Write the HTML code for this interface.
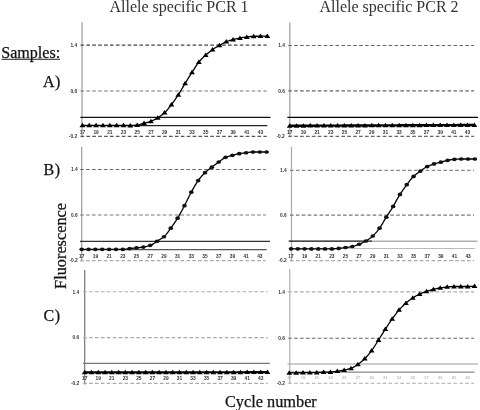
<!DOCTYPE html>
<html><head><meta charset="utf-8"><title>Allele specific PCR</title>
<style>
html,body{margin:0;padding:0;background:#fff;}
body{width:480px;height:410px;overflow:hidden;position:relative;}
svg{position:absolute;left:0;top:0;}
.t{font-family:"Liberation Serif", "Times New Roman", serif;font-size:16px;fill:#111;}
.tb{stroke:#111;stroke-width:0.25px;}
.tl{font-family:"Liberation Sans", Arial, sans-serif;font-size:4.8px;font-weight:bold;fill:#333;}
.tlf{fill:#bbb;font-size:4px;}
</style></head><body>
<svg width="480" height="410" viewBox="0 0 480 410">
<text class="t" x="109.5" y="11.7" style="fill:#333">Allele specific PCR 1</text>
<text class="t" x="319.5" y="11.7" style="fill:#333">Allele specific PCR 2</text>
<text class="t tb" x="1.2" y="57.6" style="font-size:16.1px">Samples:</text>
<line x1="1.5" y1="59.3" x2="60" y2="59.3" stroke="#222" stroke-width="1"/>
<text class="t tb" x="43" y="86.9" letter-spacing="0.4">A)</text>
<text class="t tb" x="43.6" y="175" letter-spacing="0.4">B)</text>
<text class="t tb" x="43.6" y="320.8" letter-spacing="0.4">C)</text>
<text class="t tb" transform="translate(66.4,288.9) rotate(-90)" x="0" y="0" style="font-size:16.3px">Fluorescence</text>
<text class="t tb" x="225" y="406.8" style="font-size:16.3px">Cycle number</text>
<line x1="82" y1="22.3" x2="82" y2="137.4" stroke="#9a9a9a" stroke-width="1.2"/>
<line x1="80.5" y1="45.2" x2="266.7" y2="45.2" stroke="#444" stroke-width="1.2" stroke-dasharray="3.6 2.3"/>
<line x1="80.5" y1="91" x2="266.7" y2="91" stroke="#777" stroke-width="1.2" stroke-dasharray="3.6 2.3"/>
<line x1="80.5" y1="136.4" x2="266.7" y2="136.4" stroke="#555" stroke-width="1.2" stroke-dasharray="3.6 2.3"/>
<text x="77.1" y="47" text-anchor="end" class="tl">1.4</text>
<text x="77.1" y="92.8" text-anchor="end" class="tl">0.6</text>
<text x="77.1" y="138.2" text-anchor="end" class="tl">-0.2</text>
<line x1="80.3" y1="117.4" x2="270.5" y2="117.4" stroke="#111" stroke-width="1.2"/>
<text x="82.4" y="133.6" text-anchor="middle" class="tl">17</text>
<text x="96.1" y="133.6" text-anchor="middle" class="tl">19</text>
<text x="109.8" y="133.6" text-anchor="middle" class="tl">21</text>
<text x="123.5" y="133.6" text-anchor="middle" class="tl">23</text>
<text x="137.2" y="133.6" text-anchor="middle" class="tl">25</text>
<text x="150.9" y="133.6" text-anchor="middle" class="tl">27</text>
<text x="164.6" y="133.6" text-anchor="middle" class="tl">29</text>
<text x="178.3" y="133.6" text-anchor="middle" class="tl">31</text>
<text x="192" y="133.6" text-anchor="middle" class="tl">33</text>
<text x="205.7" y="133.6" text-anchor="middle" class="tl">35</text>
<text x="219.4" y="133.6" text-anchor="middle" class="tl">37</text>
<text x="233.1" y="133.6" text-anchor="middle" class="tl">39</text>
<text x="246.8" y="133.6" text-anchor="middle" class="tl">41</text>
<text x="260.5" y="133.6" text-anchor="middle" class="tl">43</text>
<line x1="82.4" y1="125.6" x2="267.35" y2="125.6" stroke="#222" stroke-width="1.2"/>
<path d="M82.4,125.3 L83.33,125.3 L84.26,125.3 L85.19,125.3 L86.12,125.3 L87.05,125.3 L87.98,125.3 L88.91,125.3 L89.84,125.3 L90.76,125.3 L91.69,125.31 L92.62,125.31 L93.55,125.31 L94.48,125.31 L95.41,125.31 L96.34,125.31 L97.27,125.31 L98.2,125.31 L99.13,125.32 L100.06,125.32 L100.99,125.32 L101.92,125.32 L102.85,125.32 L103.78,125.33 L104.71,125.33 L105.63,125.33 L106.56,125.33 L107.49,125.34 L108.42,125.34 L109.35,125.34 L110.28,125.34 L111.21,125.35 L112.14,125.35 L113.07,125.35 L114,125.36 L114.93,125.36 L115.86,125.36 L116.79,125.37 L117.72,125.37 L118.65,125.38 L119.58,125.38 L120.51,125.38 L121.43,125.39 L122.36,125.39 L123.29,125.4 L124.22,125.4 L125.15,125.41 L126.08,125.42 L127.01,125.44 L127.94,125.46 L128.87,125.48 L129.8,125.49 L130.73,125.5 L131.66,125.5 L132.59,125.47 L133.52,125.41 L134.45,125.32 L135.38,125.22 L136.31,125.11 L137.23,125 L138.16,124.85 L139.09,124.65 L140.02,124.41 L140.95,124.14 L141.88,123.86 L142.81,123.57 L143.74,123.3 L144.67,123.05 L145.6,122.8 L146.53,122.56 L147.46,122.31 L148.39,122.05 L149.32,121.77 L150.25,121.47 L151.18,121.13 L152.1,120.76 L153.03,120.34 L153.96,119.89 L154.89,119.41 L155.82,118.9 L156.75,118.36 L157.68,117.81 L158.61,117.24 L159.54,116.64 L160.47,116 L161.4,115.33 L162.33,114.62 L163.26,113.87 L164.19,113.07 L165.12,112.21 L166.05,111.26 L166.98,110.22 L167.9,109.11 L168.83,107.95 L169.76,106.76 L170.69,105.55 L171.62,104.34 L172.55,103.11 L173.48,101.85 L174.41,100.55 L175.34,99.23 L176.27,97.87 L177.2,96.49 L178.13,95.08 L179.06,93.64 L179.99,92.15 L180.92,90.6 L181.85,89.02 L182.77,87.43 L183.7,85.84 L184.63,84.27 L185.56,82.74 L186.49,81.22 L187.42,79.7 L188.35,78.19 L189.28,76.69 L190.21,75.2 L191.14,73.72 L192.07,72.26 L193,70.8 L193.93,69.3 L194.86,67.8 L195.79,66.33 L196.72,64.91 L197.65,63.57 L198.57,62.35 L199.5,61.25 L200.43,60.2 L201.36,59.21 L202.29,58.27 L203.22,57.37 L204.15,56.5 L205.08,55.65 L206.01,54.81 L206.94,53.99 L207.87,53.18 L208.8,52.39 L209.73,51.63 L210.66,50.9 L211.59,50.2 L212.52,49.53 L213.44,48.9 L214.37,48.32 L215.3,47.76 L216.23,47.22 L217.16,46.7 L218.09,46.19 L219.02,45.68 L219.95,45.16 L220.88,44.61 L221.81,44.06 L222.74,43.51 L223.67,42.97 L224.6,42.47 L225.53,42.02 L226.46,41.64 L227.39,41.3 L228.32,41 L229.24,40.72 L230.17,40.45 L231.1,40.2 L232.03,39.96 L232.96,39.71 L233.89,39.46 L234.82,39.21 L235.75,38.97 L236.68,38.73 L237.61,38.51 L238.54,38.3 L239.47,38.1 L240.4,37.93 L241.33,37.77 L242.26,37.61 L243.19,37.47 L244.12,37.34 L245.04,37.21 L245.97,37.09 L246.9,36.98 L247.83,36.86 L248.76,36.74 L249.69,36.63 L250.62,36.52 L251.55,36.43 L252.48,36.36 L253.41,36.31 L254.34,36.28 L255.27,36.27 L256.2,36.25 L257.13,36.24 L258.06,36.23 L258.99,36.22 L259.91,36.21 L260.84,36.19 L261.77,36.17 L262.7,36.15 L263.63,36.12 L264.56,36.09 L265.49,36.07 L266.42,36.04 L267.35,36.01" fill="none" stroke="#000" stroke-width="1.3"/>
<path d="M82.4,122.7 L85.3,127.2 L79.5,127.2 Z" fill="#000"/>
<path d="M89.25,122.7 L92.15,127.2 L86.35,127.2 Z" fill="#000"/>
<path d="M96.1,122.71 L99,127.21 L93.2,127.21 Z" fill="#000"/>
<path d="M102.95,122.72 L105.85,127.22 L100.05,127.22 Z" fill="#000"/>
<path d="M109.8,122.74 L112.7,127.24 L106.9,127.24 Z" fill="#000"/>
<path d="M116.65,122.77 L119.55,127.27 L113.75,127.27 Z" fill="#000"/>
<path d="M123.5,122.8 L126.4,127.3 L120.6,127.3 Z" fill="#000"/>
<path d="M130.35,122.9 L133.25,127.4 L127.45,127.4 Z" fill="#000"/>
<path d="M137.2,122.4 L140.1,126.9 L134.3,126.9 Z" fill="#000"/>
<path d="M144.05,120.61 L146.95,125.11 L141.15,125.11 Z" fill="#000"/>
<path d="M150.9,118.64 L153.8,123.14 L148,123.14 Z" fill="#000"/>
<path d="M157.75,115.17 L160.65,119.67 L154.85,119.67 Z" fill="#000"/>
<path d="M164.6,110.1 L167.5,114.6 L161.7,114.6 Z" fill="#000"/>
<path d="M171.45,101.96 L174.35,106.46 L168.55,106.46 Z" fill="#000"/>
<path d="M178.3,92.22 L181.2,96.72 L175.4,96.72 Z" fill="#000"/>
<path d="M185.15,80.82 L188.05,85.32 L182.25,85.32 Z" fill="#000"/>
<path d="M192,69.77 L194.9,74.27 L189.1,74.27 Z" fill="#000"/>
<path d="M198.85,59.42 L201.75,63.92 L195.95,63.92 Z" fill="#000"/>
<path d="M205.7,52.49 L208.6,56.99 L202.8,56.99 Z" fill="#000"/>
<path d="M212.55,46.91 L215.45,51.41 L209.65,51.41 Z" fill="#000"/>
<path d="M219.4,42.87 L222.3,47.37 L216.5,47.37 Z" fill="#000"/>
<path d="M226.25,39.12 L229.15,43.62 L223.35,43.62 Z" fill="#000"/>
<path d="M233.1,37.07 L236,41.57 L230.2,41.57 Z" fill="#000"/>
<path d="M239.95,35.41 L242.85,39.91 L237.05,39.91 Z" fill="#000"/>
<path d="M246.8,34.39 L249.7,38.89 L243.9,38.89 Z" fill="#000"/>
<path d="M253.65,33.7 L256.55,38.2 L250.75,38.2 Z" fill="#000"/>
<path d="M260.5,33.6 L263.4,38.1 L257.6,38.1 Z" fill="#000"/>
<path d="M267.35,33.41 L270.25,37.91 L264.45,37.91 Z" fill="#000"/>
<line x1="289.8" y1="22.5" x2="289.8" y2="137.3" stroke="#9a9a9a" stroke-width="1.2"/>
<line x1="288.3" y1="45.5" x2="474" y2="45.5" stroke="#666" stroke-width="1.2" stroke-dasharray="3.6 2.3"/>
<line x1="288.3" y1="90.8" x2="474" y2="90.8" stroke="#666" stroke-width="1.2" stroke-dasharray="3.6 2.3"/>
<line x1="288.3" y1="136.3" x2="474" y2="136.3" stroke="#666" stroke-width="1.2" stroke-dasharray="3.6 2.3"/>
<text x="284.8" y="47.3" text-anchor="end" class="tl">1.4</text>
<text x="284.8" y="92.6" text-anchor="end" class="tl">0.6</text>
<text x="284.8" y="138.1" text-anchor="end" class="tl">-0.2</text>
<line x1="287.3" y1="117.4" x2="478" y2="117.4" stroke="#000" stroke-width="1.1"/>
<text x="289.7" y="133.7" text-anchor="middle" class="tl">17</text>
<text x="303.38" y="133.7" text-anchor="middle" class="tl">19</text>
<text x="317.06" y="133.7" text-anchor="middle" class="tl">21</text>
<text x="330.74" y="133.7" text-anchor="middle" class="tl">23</text>
<text x="344.42" y="133.7" text-anchor="middle" class="tl">25</text>
<text x="358.1" y="133.7" text-anchor="middle" class="tl">27</text>
<text x="371.78" y="133.7" text-anchor="middle" class="tl">29</text>
<text x="385.46" y="133.7" text-anchor="middle" class="tl">31</text>
<text x="399.14" y="133.7" text-anchor="middle" class="tl">33</text>
<text x="412.82" y="133.7" text-anchor="middle" class="tl">35</text>
<text x="426.5" y="133.7" text-anchor="middle" class="tl">37</text>
<text x="440.18" y="133.7" text-anchor="middle" class="tl">39</text>
<text x="453.86" y="133.7" text-anchor="middle" class="tl">41</text>
<text x="467.54" y="133.7" text-anchor="middle" class="tl">43</text>
<path d="M289.7,125.8 L290.63,125.8 L291.56,125.79 L292.48,125.79 L293.41,125.78 L294.34,125.78 L295.27,125.78 L296.2,125.77 L297.12,125.77 L298.05,125.76 L298.98,125.76 L299.91,125.76 L300.84,125.75 L301.76,125.75 L302.69,125.74 L303.62,125.74 L304.55,125.74 L305.48,125.73 L306.4,125.73 L307.33,125.72 L308.26,125.72 L309.19,125.72 L310.12,125.71 L311.04,125.71 L311.97,125.7 L312.9,125.7 L313.83,125.7 L314.76,125.69 L315.69,125.69 L316.61,125.68 L317.54,125.68 L318.47,125.68 L319.4,125.67 L320.33,125.67 L321.25,125.66 L322.18,125.66 L323.11,125.66 L324.04,125.65 L324.97,125.65 L325.89,125.64 L326.82,125.64 L327.75,125.64 L328.68,125.63 L329.61,125.63 L330.53,125.62 L331.46,125.62 L332.39,125.62 L333.32,125.61 L334.25,125.61 L335.17,125.6 L336.1,125.6 L337.03,125.6 L337.96,125.59 L338.89,125.59 L339.81,125.58 L340.74,125.58 L341.67,125.58 L342.6,125.57 L343.53,125.57 L344.45,125.56 L345.38,125.56 L346.31,125.56 L347.24,125.55 L348.17,125.55 L349.09,125.54 L350.02,125.54 L350.95,125.54 L351.88,125.53 L352.81,125.53 L353.73,125.52 L354.66,125.52 L355.59,125.52 L356.52,125.51 L357.45,125.51 L358.37,125.5 L359.3,125.5 L360.23,125.5 L361.16,125.49 L362.09,125.49 L363.02,125.48 L363.94,125.48 L364.87,125.48 L365.8,125.47 L366.73,125.47 L367.66,125.46 L368.58,125.46 L369.51,125.46 L370.44,125.45 L371.37,125.45 L372.3,125.44 L373.22,125.44 L374.15,125.44 L375.08,125.43 L376.01,125.43 L376.94,125.42 L377.86,125.42 L378.79,125.42 L379.72,125.41 L380.65,125.41 L381.58,125.4 L382.5,125.4 L383.43,125.4 L384.36,125.39 L385.29,125.39 L386.22,125.38 L387.14,125.38 L388.07,125.38 L389,125.37 L389.93,125.37 L390.86,125.36 L391.78,125.36 L392.71,125.36 L393.64,125.35 L394.57,125.35 L395.5,125.34 L396.42,125.34 L397.35,125.34 L398.28,125.33 L399.21,125.33 L400.14,125.32 L401.06,125.32 L401.99,125.32 L402.92,125.31 L403.85,125.31 L404.78,125.3 L405.71,125.3 L406.63,125.3 L407.56,125.29 L408.49,125.29 L409.42,125.28 L410.35,125.28 L411.27,125.28 L412.2,125.27 L413.13,125.27 L414.06,125.26 L414.99,125.26 L415.91,125.26 L416.84,125.25 L417.77,125.25 L418.7,125.24 L419.63,125.24 L420.55,125.24 L421.48,125.23 L422.41,125.23 L423.34,125.22 L424.27,125.22 L425.19,125.22 L426.12,125.21 L427.05,125.21 L427.98,125.2 L428.91,125.2 L429.83,125.19 L430.76,125.19 L431.69,125.19 L432.62,125.18 L433.55,125.18 L434.47,125.17 L435.4,125.17 L436.33,125.17 L437.26,125.16 L438.19,125.16 L439.11,125.15 L440.04,125.15 L440.97,125.15 L441.9,125.14 L442.83,125.14 L443.75,125.13 L444.68,125.13 L445.61,125.13 L446.54,125.12 L447.47,125.12 L448.39,125.11 L449.32,125.11 L450.25,125.11 L451.18,125.1 L452.11,125.1 L453.04,125.09 L453.96,125.09 L454.89,125.09 L455.82,125.08 L456.75,125.08 L457.68,125.07 L458.6,125.07 L459.53,125.07 L460.46,125.06 L461.39,125.06 L462.32,125.05 L463.24,125.05 L464.17,125.05 L465.1,125.04 L466.03,125.04 L466.96,125.03 L467.88,125.03 L468.81,125.03 L469.74,125.02 L470.67,125.02 L471.6,125.01 L472.52,125.01 L473.45,125.01 L474.38,125" fill="none" stroke="#000" stroke-width="2.4"/>
<path d="M289.7,123.2 L292.6,127.7 L286.8,127.7 Z" fill="#000"/>
<path d="M296.54,123.17 L299.44,127.67 L293.64,127.67 Z" fill="#000"/>
<path d="M303.38,123.14 L306.28,127.64 L300.48,127.64 Z" fill="#000"/>
<path d="M310.22,123.11 L313.12,127.61 L307.32,127.61 Z" fill="#000"/>
<path d="M317.06,123.08 L319.96,127.58 L314.16,127.58 Z" fill="#000"/>
<path d="M323.9,123.05 L326.8,127.55 L321,127.55 Z" fill="#000"/>
<path d="M330.74,123.02 L333.64,127.52 L327.84,127.52 Z" fill="#000"/>
<path d="M337.58,122.99 L340.48,127.49 L334.68,127.49 Z" fill="#000"/>
<path d="M344.42,122.96 L347.32,127.46 L341.52,127.46 Z" fill="#000"/>
<path d="M351.26,122.93 L354.16,127.43 L348.36,127.43 Z" fill="#000"/>
<path d="M358.1,122.9 L361,127.4 L355.2,127.4 Z" fill="#000"/>
<path d="M364.94,122.88 L367.84,127.38 L362.04,127.38 Z" fill="#000"/>
<path d="M371.78,122.85 L374.68,127.35 L368.88,127.35 Z" fill="#000"/>
<path d="M378.62,122.82 L381.52,127.32 L375.72,127.32 Z" fill="#000"/>
<path d="M385.46,122.79 L388.36,127.29 L382.56,127.29 Z" fill="#000"/>
<path d="M392.3,122.76 L395.2,127.26 L389.4,127.26 Z" fill="#000"/>
<path d="M399.14,122.73 L402.04,127.23 L396.24,127.23 Z" fill="#000"/>
<path d="M405.98,122.7 L408.88,127.2 L403.08,127.2 Z" fill="#000"/>
<path d="M412.82,122.67 L415.72,127.17 L409.92,127.17 Z" fill="#000"/>
<path d="M419.66,122.64 L422.56,127.14 L416.76,127.14 Z" fill="#000"/>
<path d="M426.5,122.61 L429.4,127.11 L423.6,127.11 Z" fill="#000"/>
<path d="M433.34,122.58 L436.24,127.08 L430.44,127.08 Z" fill="#000"/>
<path d="M440.18,122.55 L443.08,127.05 L437.28,127.05 Z" fill="#000"/>
<path d="M447.02,122.52 L449.92,127.02 L444.12,127.02 Z" fill="#000"/>
<path d="M453.86,122.49 L456.76,126.99 L450.96,126.99 Z" fill="#000"/>
<path d="M460.7,122.46 L463.6,126.96 L457.8,126.96 Z" fill="#000"/>
<path d="M467.54,122.43 L470.44,126.93 L464.64,126.93 Z" fill="#000"/>
<path d="M474.38,122.4 L477.28,126.9 L471.48,126.9 Z" fill="#000"/>
<line x1="81.7" y1="146.7" x2="81.7" y2="261.6" stroke="#9a9a9a" stroke-width="1.2"/>
<line x1="80.2" y1="169.5" x2="265.8" y2="169.5" stroke="#666" stroke-width="1.2" stroke-dasharray="3.6 2.3"/>
<line x1="80.2" y1="215" x2="265.8" y2="215" stroke="#777" stroke-width="1.2" stroke-dasharray="3.6 2.3"/>
<line x1="80.2" y1="260.6" x2="265.8" y2="260.6" stroke="#aaa" stroke-width="1.2" stroke-dasharray="3.6 2.3"/>
<text x="77.7" y="171.3" text-anchor="end" class="tl">1.4</text>
<text x="77.7" y="216.8" text-anchor="end" class="tl">0.6</text>
<text x="77.7" y="262.4" text-anchor="end" class="tl">-0.2</text>
<line x1="80" y1="241.3" x2="270" y2="241.3" stroke="#333" stroke-width="1.2"/>
<text x="81.7" y="258.1" text-anchor="middle" class="tl">17</text>
<text x="95.4" y="258.1" text-anchor="middle" class="tl">19</text>
<text x="109.1" y="258.1" text-anchor="middle" class="tl">21</text>
<text x="122.8" y="258.1" text-anchor="middle" class="tl">23</text>
<text x="136.5" y="258.1" text-anchor="middle" class="tl">25</text>
<text x="150.2" y="258.1" text-anchor="middle" class="tl">27</text>
<text x="163.9" y="258.1" text-anchor="middle" class="tl">29</text>
<text x="177.6" y="258.1" text-anchor="middle" class="tl">31</text>
<text x="191.3" y="258.1" text-anchor="middle" class="tl">33</text>
<text x="205" y="258.1" text-anchor="middle" class="tl">35</text>
<text x="218.7" y="258.1" text-anchor="middle" class="tl">37</text>
<text x="232.4" y="258.1" text-anchor="middle" class="tl">39</text>
<text x="246.1" y="258.1" text-anchor="middle" class="tl">41</text>
<text x="259.8" y="258.1" text-anchor="middle" class="tl">43</text>
<line x1="81.7" y1="249.7" x2="266.65" y2="249.7" stroke="#555" stroke-width="1.2"/>
<path d="M81.7,249.3 L82.63,249.3 L83.56,249.3 L84.49,249.3 L85.42,249.3 L86.35,249.3 L87.28,249.3 L88.21,249.3 L89.14,249.3 L90.06,249.3 L90.99,249.3 L91.92,249.3 L92.85,249.3 L93.78,249.3 L94.71,249.3 L95.64,249.3 L96.57,249.3 L97.5,249.3 L98.43,249.3 L99.36,249.3 L100.29,249.3 L101.22,249.3 L102.15,249.3 L103.08,249.3 L104.01,249.3 L104.93,249.3 L105.86,249.3 L106.79,249.3 L107.72,249.3 L108.65,249.3 L109.58,249.3 L110.51,249.3 L111.44,249.3 L112.37,249.3 L113.3,249.3 L114.23,249.3 L115.16,249.3 L116.09,249.3 L117.02,249.3 L117.95,249.3 L118.88,249.3 L119.81,249.3 L120.73,249.3 L121.66,249.3 L122.59,249.3 L123.52,249.3 L124.45,249.29 L125.38,249.24 L126.31,249.14 L127.24,249.01 L128.17,248.86 L129.1,248.71 L130.03,248.57 L130.96,248.44 L131.89,248.34 L132.82,248.25 L133.75,248.16 L134.68,248.08 L135.61,247.99 L136.53,247.9 L137.46,247.8 L138.39,247.7 L139.32,247.61 L140.25,247.51 L141.18,247.4 L142.11,247.28 L143.04,247.15 L143.97,247.01 L144.9,246.84 L145.83,246.64 L146.76,246.42 L147.69,246.17 L148.62,245.89 L149.55,245.59 L150.48,245.26 L151.4,244.89 L152.33,244.42 L153.26,243.87 L154.19,243.25 L155.12,242.6 L156.05,241.94 L156.98,241.28 L157.91,240.66 L158.84,240.08 L159.77,239.52 L160.7,238.96 L161.63,238.38 L162.56,237.75 L163.49,237.06 L164.42,236.29 L165.35,235.38 L166.28,234.32 L167.2,233.14 L168.13,231.89 L169.06,230.58 L169.99,229.25 L170.92,227.95 L171.85,226.66 L172.78,225.36 L173.71,224.04 L174.64,222.69 L175.57,221.3 L176.5,219.88 L177.43,218.42 L178.36,216.91 L179.29,215.32 L180.22,213.67 L181.15,211.96 L182.07,210.21 L183,208.43 L183.93,206.65 L184.86,204.86 L185.79,203.06 L186.72,201.21 L187.65,199.33 L188.58,197.45 L189.51,195.58 L190.44,193.76 L191.37,192 L192.3,190.32 L193.23,188.64 L194.16,186.99 L195.09,185.38 L196.02,183.83 L196.95,182.36 L197.87,180.99 L198.8,179.72 L199.73,178.52 L200.66,177.37 L201.59,176.27 L202.52,175.22 L203.45,174.22 L204.38,173.28 L205.31,172.38 L206.24,171.53 L207.17,170.74 L208.1,170 L209.03,169.29 L209.96,168.6 L210.89,167.91 L211.82,167.22 L212.74,166.51 L213.67,165.8 L214.6,165.09 L215.53,164.38 L216.46,163.67 L217.39,162.98 L218.32,162.29 L219.25,161.62 L220.18,160.95 L221.11,160.26 L222.04,159.55 L222.97,158.86 L223.9,158.22 L224.83,157.66 L225.76,157.22 L226.69,156.87 L227.62,156.56 L228.54,156.29 L229.47,156.05 L230.4,155.82 L231.33,155.59 L232.26,155.36 L233.19,155.12 L234.12,154.87 L235.05,154.63 L235.98,154.4 L236.91,154.17 L237.84,153.96 L238.77,153.78 L239.7,153.62 L240.63,153.47 L241.56,153.34 L242.49,153.21 L243.42,153.09 L244.34,152.98 L245.27,152.86 L246.2,152.75 L247.13,152.62 L248.06,152.48 L248.99,152.35 L249.92,152.22 L250.85,152.12 L251.78,152.04 L252.71,152 L253.64,152 L254.57,152 L255.5,152 L256.43,152 L257.36,152 L258.29,152 L259.21,152 L260.14,152 L261.07,152 L262,152 L262.93,152 L263.86,152 L264.79,152 L265.72,152 L266.65,152" fill="none" stroke="#000" stroke-width="1.3"/>
<ellipse cx="81.7" cy="249.3" rx="2.3" ry="1.85" fill="#111"/>
<ellipse cx="88.55" cy="249.3" rx="2.3" ry="1.85" fill="#111"/>
<ellipse cx="95.4" cy="249.3" rx="2.3" ry="1.85" fill="#111"/>
<ellipse cx="102.25" cy="249.3" rx="2.3" ry="1.85" fill="#111"/>
<ellipse cx="109.1" cy="249.3" rx="2.3" ry="1.85" fill="#111"/>
<ellipse cx="115.95" cy="249.3" rx="2.3" ry="1.85" fill="#111"/>
<ellipse cx="122.8" cy="249.3" rx="2.3" ry="1.85" fill="#111"/>
<ellipse cx="129.65" cy="248.62" rx="2.3" ry="1.85" fill="#111"/>
<ellipse cx="136.5" cy="247.9" rx="2.3" ry="1.85" fill="#111"/>
<ellipse cx="143.35" cy="247.11" rx="2.3" ry="1.85" fill="#111"/>
<ellipse cx="150.2" cy="245.36" rx="2.3" ry="1.85" fill="#111"/>
<ellipse cx="157.05" cy="241.24" rx="2.3" ry="1.85" fill="#111"/>
<ellipse cx="163.9" cy="236.73" rx="2.3" ry="1.85" fill="#111"/>
<ellipse cx="170.75" cy="228.19" rx="2.3" ry="1.85" fill="#111"/>
<ellipse cx="177.6" cy="218.14" rx="2.3" ry="1.85" fill="#111"/>
<ellipse cx="184.45" cy="205.65" rx="2.3" ry="1.85" fill="#111"/>
<ellipse cx="191.3" cy="192.13" rx="2.3" ry="1.85" fill="#111"/>
<ellipse cx="198.15" cy="180.61" rx="2.3" ry="1.85" fill="#111"/>
<ellipse cx="205" cy="172.67" rx="2.3" ry="1.85" fill="#111"/>
<ellipse cx="211.85" cy="167.19" rx="2.3" ry="1.85" fill="#111"/>
<ellipse cx="218.7" cy="162.02" rx="2.3" ry="1.85" fill="#111"/>
<ellipse cx="225.55" cy="157.31" rx="2.3" ry="1.85" fill="#111"/>
<ellipse cx="232.4" cy="155.33" rx="2.3" ry="1.85" fill="#111"/>
<ellipse cx="239.25" cy="153.69" rx="2.3" ry="1.85" fill="#111"/>
<ellipse cx="246.1" cy="152.76" rx="2.3" ry="1.85" fill="#111"/>
<ellipse cx="252.95" cy="152" rx="2.3" ry="1.85" fill="#111"/>
<ellipse cx="259.8" cy="152" rx="2.3" ry="1.85" fill="#111"/>
<ellipse cx="266.65" cy="152" rx="2.3" ry="1.85" fill="#111"/>
<line x1="291.5" y1="147" x2="291.5" y2="261.6" stroke="#a8a8a8" stroke-width="1.2"/>
<line x1="290" y1="170.4" x2="474" y2="170.4" stroke="#888" stroke-width="1.2" stroke-dasharray="3.6 2.3"/>
<line x1="290" y1="215.2" x2="474" y2="215.2" stroke="#777" stroke-width="1.2" stroke-dasharray="3.6 2.3"/>
<line x1="290" y1="260.6" x2="474" y2="260.6" stroke="#aaa" stroke-width="1.2" stroke-dasharray="3.6 2.3"/>
<text x="286.7" y="172.2" text-anchor="end" class="tl">1.4</text>
<text x="286.7" y="217" text-anchor="end" class="tl">0.6</text>
<text x="286.7" y="262.4" text-anchor="end" class="tl">-0.2</text>
<line x1="288.7" y1="241.2" x2="372" y2="241.2" stroke="#111" stroke-width="1.2"/>
<text x="291" y="257.6" text-anchor="middle" class="tl">17</text>
<text x="304.62" y="257.6" text-anchor="middle" class="tl">19</text>
<text x="318.24" y="257.6" text-anchor="middle" class="tl">21</text>
<text x="331.86" y="257.6" text-anchor="middle" class="tl">23</text>
<text x="345.48" y="257.6" text-anchor="middle" class="tl">25</text>
<text x="359.1" y="257.6" text-anchor="middle" class="tl">27</text>
<text x="372.72" y="257.6" text-anchor="middle" class="tl">29</text>
<text x="386.34" y="257.6" text-anchor="middle" class="tl">31</text>
<text x="399.96" y="257.6" text-anchor="middle" class="tl">33</text>
<text x="413.58" y="257.6" text-anchor="middle" class="tl">35</text>
<text x="427.2" y="257.6" text-anchor="middle" class="tl">37</text>
<text x="440.82" y="257.6" text-anchor="middle" class="tl">39</text>
<text x="454.44" y="257.6" text-anchor="middle" class="tl">41</text>
<text x="468.06" y="257.6" text-anchor="middle" class="tl">43</text>
<line x1="372" y1="241.2" x2="477.5" y2="241.2" stroke="#888" stroke-width="1"/>
<line x1="291" y1="248.5" x2="474.87" y2="248.5" stroke="#bbb" stroke-width="1.2"/>
<path d="M291,248.8 L291.92,248.81 L292.85,248.81 L293.77,248.81 L294.7,248.82 L295.62,248.82 L296.54,248.83 L297.47,248.83 L298.39,248.84 L299.32,248.84 L300.24,248.85 L301.16,248.85 L302.09,248.85 L303.01,248.86 L303.94,248.86 L304.86,248.86 L305.78,248.87 L306.71,248.87 L307.63,248.87 L308.56,248.88 L309.48,248.88 L310.4,248.88 L311.33,248.88 L312.25,248.89 L313.18,248.89 L314.1,248.89 L315.02,248.89 L315.95,248.89 L316.87,248.89 L317.8,248.9 L318.72,248.9 L319.64,248.9 L320.57,248.9 L321.49,248.9 L322.41,248.9 L323.34,248.9 L324.26,248.9 L325.19,248.9 L326.11,248.9 L327.03,248.9 L327.96,248.9 L328.88,248.9 L329.81,248.9 L330.73,248.9 L331.65,248.9 L332.58,248.88 L333.5,248.83 L334.43,248.77 L335.35,248.7 L336.27,248.62 L337.2,248.53 L338.12,248.44 L339.05,248.36 L339.97,248.26 L340.89,248.15 L341.82,248.03 L342.74,247.9 L343.67,247.77 L344.59,247.64 L345.51,247.51 L346.44,247.39 L347.36,247.27 L348.29,247.15 L349.21,247.02 L350.13,246.88 L351.06,246.73 L351.98,246.56 L352.91,246.37 L353.83,246.13 L354.75,245.85 L355.68,245.54 L356.6,245.22 L357.53,244.87 L358.45,244.51 L359.37,244.15 L360.3,243.77 L361.22,243.37 L362.15,242.95 L363.07,242.5 L363.99,242.03 L364.92,241.54 L365.84,241.02 L366.77,240.47 L367.69,239.88 L368.61,239.26 L369.54,238.6 L370.46,237.9 L371.39,237.16 L372.31,236.38 L373.23,235.54 L374.16,234.64 L375.08,233.67 L376.01,232.63 L376.93,231.55 L377.85,230.41 L378.78,229.22 L379.7,227.97 L380.63,226.6 L381.55,225.13 L382.47,223.59 L383.4,222.01 L384.32,220.44 L385.24,218.9 L386.17,217.42 L387.09,215.97 L388.02,214.55 L388.94,213.13 L389.86,211.71 L390.79,210.26 L391.71,208.79 L392.64,207.27 L393.56,205.68 L394.48,204.03 L395.41,202.35 L396.33,200.66 L397.26,198.98 L398.18,197.36 L399.1,195.81 L400.03,194.35 L400.95,192.92 L401.88,191.53 L402.8,190.17 L403.72,188.85 L404.65,187.55 L405.57,186.28 L406.5,185.04 L407.42,183.79 L408.34,182.55 L409.27,181.34 L410.19,180.16 L411.12,179.04 L412.04,177.99 L412.96,177.04 L413.89,176.17 L414.81,175.35 L415.74,174.59 L416.66,173.86 L417.58,173.16 L418.51,172.48 L419.43,171.81 L420.36,171.14 L421.28,170.45 L422.2,169.76 L423.13,169.08 L424.05,168.43 L424.98,167.81 L425.9,167.24 L426.82,166.74 L427.75,166.29 L428.67,165.87 L429.6,165.48 L430.52,165.11 L431.44,164.77 L432.37,164.45 L433.29,164.14 L434.22,163.86 L435.14,163.6 L436.06,163.36 L436.99,163.14 L437.91,162.92 L438.84,162.7 L439.76,162.47 L440.68,162.22 L441.61,161.95 L442.53,161.66 L443.46,161.36 L444.38,161.07 L445.3,160.8 L446.23,160.57 L447.15,160.37 L448.07,160.2 L449,160.04 L449.92,159.89 L450.85,159.75 L451.77,159.63 L452.69,159.52 L453.62,159.43 L454.54,159.36 L455.47,159.28 L456.39,159.21 L457.31,159.15 L458.24,159.09 L459.16,159.05 L460.09,159.02 L461.01,159 L461.93,159 L462.86,159 L463.78,159 L464.71,159 L465.63,159 L466.55,159 L467.48,159 L468.4,159 L469.33,159 L470.25,159 L471.17,159 L472.1,159 L473.02,159 L473.95,159 L474.87,159" fill="none" stroke="#000" stroke-width="1.3"/>
<ellipse cx="291" cy="248.8" rx="2.3" ry="1.85" fill="#111"/>
<ellipse cx="297.81" cy="248.83" rx="2.3" ry="1.85" fill="#111"/>
<ellipse cx="304.62" cy="248.86" rx="2.3" ry="1.85" fill="#111"/>
<ellipse cx="311.43" cy="248.88" rx="2.3" ry="1.85" fill="#111"/>
<ellipse cx="318.24" cy="248.9" rx="2.3" ry="1.85" fill="#111"/>
<ellipse cx="325.05" cy="248.9" rx="2.3" ry="1.85" fill="#111"/>
<ellipse cx="331.86" cy="248.9" rx="2.3" ry="1.85" fill="#111"/>
<ellipse cx="338.67" cy="248.39" rx="2.3" ry="1.85" fill="#111"/>
<ellipse cx="345.48" cy="247.52" rx="2.3" ry="1.85" fill="#111"/>
<ellipse cx="352.29" cy="246.5" rx="2.3" ry="1.85" fill="#111"/>
<ellipse cx="359.1" cy="244.26" rx="2.3" ry="1.85" fill="#111"/>
<ellipse cx="365.91" cy="240.98" rx="2.3" ry="1.85" fill="#111"/>
<ellipse cx="372.72" cy="236.02" rx="2.3" ry="1.85" fill="#111"/>
<ellipse cx="379.53" cy="228.22" rx="2.3" ry="1.85" fill="#111"/>
<ellipse cx="386.34" cy="217.15" rx="2.3" ry="1.85" fill="#111"/>
<ellipse cx="393.15" cy="206.4" rx="2.3" ry="1.85" fill="#111"/>
<ellipse cx="399.96" cy="194.46" rx="2.3" ry="1.85" fill="#111"/>
<ellipse cx="406.77" cy="184.67" rx="2.3" ry="1.85" fill="#111"/>
<ellipse cx="413.58" cy="176.45" rx="2.3" ry="1.85" fill="#111"/>
<ellipse cx="420.39" cy="171.11" rx="2.3" ry="1.85" fill="#111"/>
<ellipse cx="427.2" cy="166.55" rx="2.3" ry="1.85" fill="#111"/>
<ellipse cx="434.01" cy="163.92" rx="2.3" ry="1.85" fill="#111"/>
<ellipse cx="440.82" cy="162.18" rx="2.3" ry="1.85" fill="#111"/>
<ellipse cx="447.63" cy="160.28" rx="2.3" ry="1.85" fill="#111"/>
<ellipse cx="454.44" cy="159.36" rx="2.3" ry="1.85" fill="#111"/>
<ellipse cx="461.25" cy="159" rx="2.3" ry="1.85" fill="#111"/>
<ellipse cx="468.06" cy="159" rx="2.3" ry="1.85" fill="#111"/>
<ellipse cx="474.87" cy="159" rx="2.3" ry="1.85" fill="#111"/>
<line x1="84.7" y1="270" x2="84.7" y2="384.4" stroke="#777" stroke-width="1.2"/>
<line x1="83.2" y1="291.7" x2="267.7" y2="291.7" stroke="#aaa" stroke-width="1.1" stroke-dasharray="3.6 2.3"/>
<line x1="83.2" y1="337.6" x2="267.7" y2="337.6" stroke="#aaa" stroke-width="1.1" stroke-dasharray="3.6 2.3"/>
<line x1="83.2" y1="383.4" x2="267.7" y2="383.4" stroke="#aaa" stroke-width="1.1" stroke-dasharray="3.6 2.3"/>
<text x="79.2" y="293.5" text-anchor="end" class="tl">1.4</text>
<text x="79.2" y="339.4" text-anchor="end" class="tl">0.6</text>
<text x="79.2" y="385.2" text-anchor="end" class="tl">-0.2</text>
<line x1="83" y1="363.4" x2="269.8" y2="363.4" stroke="#777" stroke-width="1.2"/>
<text x="84.7" y="380.3" text-anchor="middle" class="tl">17</text>
<text x="98.24" y="380.3" text-anchor="middle" class="tl">19</text>
<text x="111.78" y="380.3" text-anchor="middle" class="tl">21</text>
<text x="125.32" y="380.3" text-anchor="middle" class="tl">23</text>
<text x="138.86" y="380.3" text-anchor="middle" class="tl">25</text>
<text x="152.4" y="380.3" text-anchor="middle" class="tl">27</text>
<text x="165.94" y="380.3" text-anchor="middle" class="tl">29</text>
<text x="179.48" y="380.3" text-anchor="middle" class="tl">31</text>
<text x="193.02" y="380.3" text-anchor="middle" class="tl">33</text>
<text x="206.56" y="380.3" text-anchor="middle" class="tl">35</text>
<text x="220.1" y="380.3" text-anchor="middle" class="tl">37</text>
<text x="233.64" y="380.3" text-anchor="middle" class="tl">39</text>
<text x="247.18" y="380.3" text-anchor="middle" class="tl">41</text>
<text x="260.72" y="380.3" text-anchor="middle" class="tl">43</text>
<path d="M84.7,372.4 L85.62,372.4 L86.54,372.4 L87.46,372.4 L88.37,372.4 L89.29,372.39 L90.21,372.39 L91.13,372.39 L92.05,372.39 L92.97,372.39 L93.89,372.39 L94.8,372.39 L95.72,372.39 L96.64,372.39 L97.56,372.39 L98.48,372.38 L99.4,372.38 L100.32,372.38 L101.23,372.38 L102.15,372.38 L103.07,372.38 L103.99,372.38 L104.91,372.38 L105.83,372.38 L106.75,372.38 L107.66,372.37 L108.58,372.37 L109.5,372.37 L110.42,372.37 L111.34,372.37 L112.26,372.37 L113.17,372.37 L114.09,372.37 L115.01,372.37 L115.93,372.37 L116.85,372.36 L117.77,372.36 L118.69,372.36 L119.6,372.36 L120.52,372.36 L121.44,372.36 L122.36,372.36 L123.28,372.36 L124.2,372.36 L125.12,372.36 L126.03,372.35 L126.95,372.35 L127.87,372.35 L128.79,372.35 L129.71,372.35 L130.63,372.35 L131.55,372.35 L132.46,372.35 L133.38,372.35 L134.3,372.35 L135.22,372.34 L136.14,372.34 L137.06,372.34 L137.98,372.34 L138.89,372.34 L139.81,372.34 L140.73,372.34 L141.65,372.34 L142.57,372.34 L143.49,372.34 L144.41,372.33 L145.32,372.33 L146.24,372.33 L147.16,372.33 L148.08,372.33 L149,372.33 L149.92,372.33 L150.84,372.33 L151.75,372.33 L152.67,372.33 L153.59,372.32 L154.51,372.32 L155.43,372.32 L156.35,372.32 L157.26,372.32 L158.18,372.32 L159.1,372.32 L160.02,372.32 L160.94,372.32 L161.86,372.32 L162.78,372.31 L163.69,372.31 L164.61,372.31 L165.53,372.31 L166.45,372.31 L167.37,372.31 L168.29,372.31 L169.21,372.31 L170.12,372.31 L171.04,372.31 L171.96,372.3 L172.88,372.3 L173.8,372.3 L174.72,372.3 L175.64,372.3 L176.55,372.3 L177.47,372.3 L178.39,372.3 L179.31,372.3 L180.23,372.3 L181.15,372.29 L182.07,372.29 L182.98,372.29 L183.9,372.29 L184.82,372.29 L185.74,372.29 L186.66,372.29 L187.58,372.29 L188.5,372.29 L189.41,372.29 L190.33,372.28 L191.25,372.28 L192.17,372.28 L193.09,372.28 L194.01,372.28 L194.93,372.28 L195.84,372.28 L196.76,372.28 L197.68,372.28 L198.6,372.28 L199.52,372.27 L200.44,372.27 L201.35,372.27 L202.27,372.27 L203.19,372.27 L204.11,372.27 L205.03,372.27 L205.95,372.27 L206.87,372.27 L207.78,372.27 L208.7,372.26 L209.62,372.26 L210.54,372.26 L211.46,372.26 L212.38,372.26 L213.3,372.26 L214.21,372.26 L215.13,372.26 L216.05,372.26 L216.97,372.26 L217.89,372.25 L218.81,372.25 L219.73,372.25 L220.64,372.25 L221.56,372.25 L222.48,372.25 L223.4,372.25 L224.32,372.25 L225.24,372.25 L226.16,372.25 L227.07,372.24 L227.99,372.24 L228.91,372.24 L229.83,372.24 L230.75,372.24 L231.67,372.24 L232.59,372.24 L233.5,372.24 L234.42,372.24 L235.34,372.24 L236.26,372.23 L237.18,372.23 L238.1,372.23 L239.02,372.23 L239.93,372.23 L240.85,372.23 L241.77,372.23 L242.69,372.23 L243.61,372.23 L244.53,372.23 L245.44,372.22 L246.36,372.22 L247.28,372.22 L248.2,372.22 L249.12,372.22 L250.04,372.22 L250.96,372.22 L251.87,372.22 L252.79,372.22 L253.71,372.22 L254.63,372.21 L255.55,372.21 L256.47,372.21 L257.39,372.21 L258.3,372.21 L259.22,372.21 L260.14,372.21 L261.06,372.21 L261.98,372.21 L262.9,372.21 L263.82,372.2 L264.73,372.2 L265.65,372.2 L266.57,372.2 L267.49,372.2" fill="none" stroke="#000" stroke-width="2.2"/>
<path d="M84.7,369.8 L87.6,374.3 L81.8,374.3 Z" fill="#000"/>
<path d="M91.47,369.79 L94.37,374.29 L88.57,374.29 Z" fill="#000"/>
<path d="M98.24,369.79 L101.14,374.29 L95.34,374.29 Z" fill="#000"/>
<path d="M105.01,369.78 L107.91,374.28 L102.11,374.28 Z" fill="#000"/>
<path d="M111.78,369.77 L114.68,374.27 L108.88,374.27 Z" fill="#000"/>
<path d="M118.55,369.76 L121.45,374.26 L115.65,374.26 Z" fill="#000"/>
<path d="M125.32,369.76 L128.22,374.26 L122.42,374.26 Z" fill="#000"/>
<path d="M132.09,369.75 L134.99,374.25 L129.19,374.25 Z" fill="#000"/>
<path d="M138.86,369.74 L141.76,374.24 L135.96,374.24 Z" fill="#000"/>
<path d="M145.63,369.73 L148.53,374.23 L142.73,374.23 Z" fill="#000"/>
<path d="M152.4,369.73 L155.3,374.23 L149.5,374.23 Z" fill="#000"/>
<path d="M159.17,369.72 L162.07,374.22 L156.27,374.22 Z" fill="#000"/>
<path d="M165.94,369.71 L168.84,374.21 L163.04,374.21 Z" fill="#000"/>
<path d="M172.71,369.7 L175.61,374.2 L169.81,374.2 Z" fill="#000"/>
<path d="M179.48,369.7 L182.38,374.2 L176.58,374.2 Z" fill="#000"/>
<path d="M186.25,369.69 L189.15,374.19 L183.35,374.19 Z" fill="#000"/>
<path d="M193.02,369.68 L195.92,374.18 L190.12,374.18 Z" fill="#000"/>
<path d="M199.79,369.67 L202.69,374.17 L196.89,374.17 Z" fill="#000"/>
<path d="M206.56,369.67 L209.46,374.17 L203.66,374.17 Z" fill="#000"/>
<path d="M213.33,369.66 L216.23,374.16 L210.43,374.16 Z" fill="#000"/>
<path d="M220.1,369.65 L223,374.15 L217.2,374.15 Z" fill="#000"/>
<path d="M226.87,369.64 L229.77,374.14 L223.97,374.14 Z" fill="#000"/>
<path d="M233.64,369.64 L236.54,374.14 L230.74,374.14 Z" fill="#000"/>
<path d="M240.41,369.63 L243.31,374.13 L237.51,374.13 Z" fill="#000"/>
<path d="M247.18,369.62 L250.08,374.12 L244.28,374.12 Z" fill="#000"/>
<path d="M253.95,369.62 L256.85,374.12 L251.05,374.12 Z" fill="#000"/>
<path d="M260.72,369.61 L263.62,374.11 L257.82,374.11 Z" fill="#000"/>
<path d="M267.49,369.6 L270.39,374.1 L264.59,374.1 Z" fill="#000"/>
<line x1="289.75" y1="269" x2="289.75" y2="384.3" stroke="#b0b0b0" stroke-width="1.2"/>
<line x1="288.25" y1="291.9" x2="474" y2="291.9" stroke="#aaa" stroke-width="1.1" stroke-dasharray="3.6 2.3"/>
<line x1="288.25" y1="338.2" x2="474" y2="338.2" stroke="#666" stroke-width="1.1" stroke-dasharray="3.6 2.3"/>
<line x1="288.25" y1="383.3" x2="474" y2="383.3" stroke="#aaa" stroke-width="1.1" stroke-dasharray="3.6 2.3"/>
<text x="284.95" y="293.7" text-anchor="end" class="tl">1.4</text>
<text x="284.95" y="340" text-anchor="end" class="tl">0.6</text>
<text x="284.95" y="385.1" text-anchor="end" class="tl">-0.2</text>
<line x1="287.5" y1="364" x2="478" y2="364" stroke="#999" stroke-width="1.2"/>
<text x="289.3" y="378.8" text-anchor="middle" class="tl tlf">17</text>
<text x="303.02" y="378.8" text-anchor="middle" class="tl tlf">19</text>
<text x="316.74" y="378.8" text-anchor="middle" class="tl tlf">21</text>
<text x="330.46" y="378.8" text-anchor="middle" class="tl tlf">23</text>
<text x="344.18" y="378.8" text-anchor="middle" class="tl tlf">25</text>
<text x="357.9" y="378.8" text-anchor="middle" class="tl tlf">27</text>
<text x="371.62" y="378.8" text-anchor="middle" class="tl tlf">29</text>
<text x="385.34" y="378.8" text-anchor="middle" class="tl tlf">31</text>
<text x="399.06" y="378.8" text-anchor="middle" class="tl tlf">33</text>
<text x="412.78" y="378.8" text-anchor="middle" class="tl tlf">35</text>
<text x="426.5" y="378.8" text-anchor="middle" class="tl tlf">37</text>
<text x="440.22" y="378.8" text-anchor="middle" class="tl tlf">39</text>
<text x="453.94" y="378.8" text-anchor="middle" class="tl tlf">41</text>
<text x="467.66" y="378.8" text-anchor="middle" class="tl tlf">43</text>
<line x1="289.3" y1="372.1" x2="474.52" y2="372.1" stroke="#888" stroke-width="1.2"/>
<path d="M289.3,372.8 L290.23,372.8 L291.16,372.8 L292.09,372.8 L293.02,372.79 L293.95,372.79 L294.88,372.78 L295.82,372.78 L296.75,372.77 L297.68,372.76 L298.61,372.76 L299.54,372.75 L300.47,372.74 L301.4,372.73 L302.33,372.72 L303.26,372.71 L304.19,372.7 L305.12,372.68 L306.05,372.67 L306.98,372.66 L307.92,372.64 L308.85,372.63 L309.78,372.61 L310.71,372.6 L311.64,372.58 L312.57,372.56 L313.5,372.55 L314.43,372.53 L315.36,372.51 L316.29,372.49 L317.22,372.47 L318.15,372.43 L319.08,372.39 L320.01,372.34 L320.95,372.3 L321.88,372.25 L322.81,372.21 L323.74,372.18 L324.67,372.16 L325.6,372.14 L326.53,372.11 L327.46,372.09 L328.39,372.07 L329.32,372.04 L330.25,372 L331.18,371.94 L332.11,371.86 L333.05,371.77 L333.98,371.66 L334.91,371.54 L335.84,371.41 L336.77,371.28 L337.7,371.16 L338.63,371.03 L339.56,370.9 L340.49,370.76 L341.42,370.61 L342.35,370.45 L343.28,370.28 L344.21,370.1 L345.15,369.9 L346.08,369.69 L347.01,369.47 L347.94,369.22 L348.87,368.96 L349.8,368.67 L350.73,368.36 L351.66,368.02 L352.59,367.62 L353.52,367.16 L354.45,366.63 L355.38,366.06 L356.31,365.45 L357.25,364.81 L358.18,364.16 L359.11,363.49 L360.04,362.79 L360.97,362.04 L361.9,361.26 L362.83,360.44 L363.76,359.59 L364.69,358.7 L365.62,357.78 L366.55,356.81 L367.48,355.78 L368.41,354.7 L369.34,353.57 L370.28,352.39 L371.21,351.17 L372.14,349.92 L373.07,348.62 L374,347.22 L374.93,345.77 L375.86,344.26 L376.79,342.74 L377.72,341.21 L378.65,339.71 L379.58,338.24 L380.51,336.77 L381.44,335.29 L382.38,333.82 L383.31,332.35 L384.24,330.89 L385.17,329.44 L386.1,328.01 L387.03,326.59 L387.96,325.17 L388.89,323.76 L389.82,322.36 L390.75,320.99 L391.68,319.64 L392.61,318.33 L393.54,317.06 L394.48,315.79 L395.41,314.55 L396.34,313.33 L397.27,312.14 L398.2,310.99 L399.13,309.89 L400.06,308.84 L400.99,307.85 L401.92,306.89 L402.85,305.97 L403.78,305.07 L404.71,304.21 L405.64,303.38 L406.57,302.58 L407.51,301.81 L408.44,301.07 L409.37,300.35 L410.3,299.65 L411.23,298.98 L412.16,298.34 L413.09,297.73 L414.02,297.15 L414.95,296.59 L415.88,296.06 L416.81,295.54 L417.74,295.04 L418.67,294.57 L419.61,294.12 L420.54,293.69 L421.47,293.29 L422.4,292.91 L423.33,292.55 L424.26,292.2 L425.19,291.87 L426.12,291.56 L427.05,291.24 L427.98,290.94 L428.91,290.63 L429.84,290.32 L430.77,290.02 L431.71,289.73 L432.64,289.45 L433.57,289.2 L434.5,288.97 L435.43,288.77 L436.36,288.59 L437.29,288.42 L438.22,288.26 L439.15,288.11 L440.08,287.97 L441.01,287.83 L441.94,287.69 L442.87,287.56 L443.81,287.42 L444.74,287.28 L445.67,287.15 L446.6,287.03 L447.53,286.93 L448.46,286.84 L449.39,286.77 L450.32,286.71 L451.25,286.66 L452.18,286.6 L453.11,286.56 L454.04,286.53 L454.97,286.51 L455.9,286.5 L456.84,286.5 L457.77,286.5 L458.7,286.5 L459.63,286.5 L460.56,286.5 L461.49,286.5 L462.42,286.5 L463.35,286.5 L464.28,286.5 L465.21,286.5 L466.14,286.5 L467.07,286.5 L468,286.5 L468.94,286.5 L469.87,286.5 L470.8,286.47 L471.73,286.43 L472.66,286.37 L473.59,286.29 L474.52,286.2" fill="none" stroke="#000" stroke-width="1.3"/>
<path d="M289.3,370.2 L292.2,374.7 L286.4,374.7 Z" fill="#000"/>
<path d="M296.16,370.18 L299.06,374.68 L293.26,374.68 Z" fill="#000"/>
<path d="M303.02,370.11 L305.92,374.61 L300.12,374.61 Z" fill="#000"/>
<path d="M309.88,370.01 L312.78,374.51 L306.98,374.51 Z" fill="#000"/>
<path d="M316.74,369.88 L319.64,374.38 L313.84,374.38 Z" fill="#000"/>
<path d="M323.6,369.59 L326.5,374.09 L320.7,374.09 Z" fill="#000"/>
<path d="M330.46,369.39 L333.36,373.89 L327.56,373.89 Z" fill="#000"/>
<path d="M337.32,368.61 L340.22,373.11 L334.42,373.11 Z" fill="#000"/>
<path d="M344.18,367.5 L347.08,372 L341.28,372 Z" fill="#000"/>
<path d="M351.04,365.65 L353.94,370.15 L348.14,370.15 Z" fill="#000"/>
<path d="M357.9,361.75 L360.8,366.25 L355,366.25 Z" fill="#000"/>
<path d="M364.76,356.03 L367.66,360.53 L361.86,360.53 Z" fill="#000"/>
<path d="M371.62,348.02 L374.52,352.52 L368.72,352.52 Z" fill="#000"/>
<path d="M378.48,337.39 L381.38,341.89 L375.58,341.89 Z" fill="#000"/>
<path d="M385.34,326.57 L388.24,331.07 L382.44,331.07 Z" fill="#000"/>
<path d="M392.2,316.31 L395.1,320.81 L389.3,320.81 Z" fill="#000"/>
<path d="M399.06,307.37 L401.96,311.87 L396.16,311.87 Z" fill="#000"/>
<path d="M405.92,300.54 L408.82,305.04 L403.02,305.04 Z" fill="#000"/>
<path d="M412.78,295.33 L415.68,299.83 L409.88,299.83 Z" fill="#000"/>
<path d="M419.64,291.5 L422.54,296 L416.74,296 Z" fill="#000"/>
<path d="M426.5,288.83 L429.4,293.33 L423.6,293.33 Z" fill="#000"/>
<path d="M433.36,286.65 L436.26,291.15 L430.46,291.15 Z" fill="#000"/>
<path d="M440.22,285.35 L443.12,289.85 L437.32,289.85 Z" fill="#000"/>
<path d="M447.08,284.37 L449.98,288.87 L444.18,288.87 Z" fill="#000"/>
<path d="M453.94,283.93 L456.84,288.43 L451.04,288.43 Z" fill="#000"/>
<path d="M460.8,283.9 L463.7,288.4 L457.9,288.4 Z" fill="#000"/>
<path d="M467.66,283.9 L470.56,288.4 L464.76,288.4 Z" fill="#000"/>
<path d="M474.52,283.6 L477.42,288.1 L471.62,288.1 Z" fill="#000"/>
</svg>
</body></html>
